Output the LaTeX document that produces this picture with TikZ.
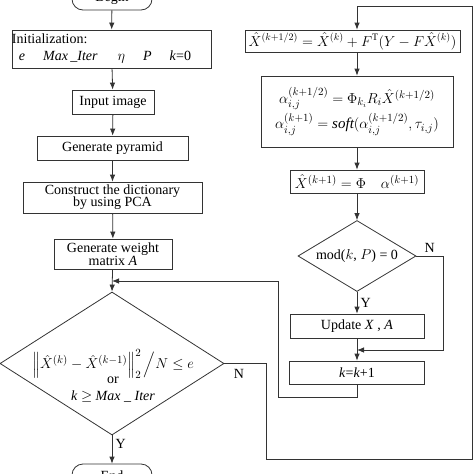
\documentclass[tikz,border=0pt]{standalone}
\usepackage{fontspec}
\setmainfont{Liberation Serif}
\usepackage{amsmath}
\usetikzlibrary{shapes.geometric, arrows.meta}

\begin{document}
\begin{tikzpicture}[x=1pt, y=-1pt,
	every node/.style={font=\fontsize{14}{16}\selectfont},
	mathfont/.style={font=\fontsize{15}{17}\selectfont},
	box/.style={draw=black!80, line width=0.8pt, inner sep=0pt, align=center},
	term/.style={box, rounded corners=11pt},
	test/.style={draw=black!80, line width=0.8pt, diamond, inner sep=0pt},
	link/.style={draw=black!80, line width=0.8pt},
	arr/.style={link, -{Latex[length=7pt, width=5.5pt]}}]

	\useasboundingbox (0,0) rectangle (474,474);

	% left column
	\node[term, minimum width=80pt, minimum height=24pt] (begin) at (112,-2) {Begin};
	\node[box, minimum height=38pt, text width=199pt, align=left] (init) at (111.5,49)
		{Initialization:\\[1pt]
		 \hspace{7pt}\textit{e}\hspace{18pt}\textit{Max\,\_Iter}\hspace{20pt}$\eta$\hspace{18pt}\textit{P}\hspace{18pt}\textit{k}=0};
	\node[box, minimum width=82pt, minimum height=24pt] (input) at (113,102) {Input image};
	\node[box, minimum width=151pt, minimum height=24pt] (pyr) at (112.5,148) {Generate pyramid};
	\node[box, minimum width=179pt, minimum height=31pt] (dict) at (112.5,197.5)
		{Construct the dictionary\\[-4pt] by using PCA};
	\node[box, minimum width=118pt, minimum height=30pt] (weight) at (113,254)
		{Generate weight\\[-3pt] matrix \textit{A}};
	\node[test, minimum width=224pt, minimum height=143pt] (stop) at (112,363.5) {};
	\node[align=center] (stoptxt) at (113,376)
		{\fontsize{15}{17}\selectfont$\left\|\hat{X}^{(k)}-\hat{X}^{(k-1)}\right\|_2^2\Big/N\le e$\\[-3pt]
		 or\\[1pt]
		 \textit{k} $\ge$ \textit{Max \_ Iter}};
	\node[term, minimum width=80pt, minimum height=24pt] (end) at (112,476) {End};

	% right column
	\node[box, minimum width=215pt, minimum height=22pt] (grad) at (352.5,41)
		{$\hat{X}^{(k+1/2)}=\hat{X}^{(k)}+F^{\mathrm{T}}(Y-F\hat{X}^{(k)})$};
	\node[box, mathfont, minimum width=192pt, minimum height=71pt] (shrink) at (357,111.5)
		{$\alpha_{i,j}^{(k+1/2)}=\Phi_{k_i}R_i\hat{X}^{(k+1/2)}$\\[2pt]
		 $\alpha_{i,j}^{(k+1)}=\textit{soft}(\alpha_{i,j}^{(k+1/2)},\tau_{i,j})$};
	\node[box, mathfont, minimum width=134pt, minimum height=23pt] (recon) at (357,181.5)
		{$\hat{X}^{(k+1)}=\Phi\quad\alpha^{(k+1)}$};
	\node[test, minimum width=118pt, minimum height=71pt] (modt) at (357,256) {};
	\node (modtxt) at (357,256) {mod($k$, $P$) = 0};
	\node[box, minimum width=134pt, minimum height=24pt] (upd) at (357,326) {Update \textit{X} , \textit{A}};
	\node[box, minimum width=135pt, minimum height=23pt] (kinc) at (357,372.5) {\textit{k}=\textit{k}+1};

	\coordinate (join) at (112,281);
	\coordinate (merge) at (357,350);
	\coordinate (entry) at (357,6);

	% main chain
	\draw[arr] (begin) -- (init);
	\draw[arr] (init) -- (input);
	\draw[arr] (input) -- (pyr);
	\draw[arr] (pyr) -- (dict);
	\draw[arr] (dict) -- (weight);
	\draw[arr] (weight) -- (stop.north);
	\draw[arr] (stop.south) -- (end) node[pos=0.3, right] {Y};

	% loop body
	\draw[link] (stop.east) -- (266,363.5) node[pos=0.35, below=2pt] {N}
		-- (266,459) -- (472,459) -- (472,6) -- (entry);
	\draw[arr] (entry) -- (grad.north -| entry);
	\draw[arr] (grad.south -| entry) -- (shrink);
	\draw[arr] (shrink) -- (recon);
	\draw[arr] (recon) -- (modt.north);
	\draw[arr] (modt.south) -- (upd) node[midway, right] {Y};
	\draw[arr] (modt.east) -- (443,256) node[midway, above] {N} -- (443,350) -- (merge);
	\draw[arr] (upd) -- (kinc);
	\draw[arr] (kinc.south) -- (357,397) -- (278,397) -- (278,281) -- (join);
\end{tikzpicture}
\end{document}
